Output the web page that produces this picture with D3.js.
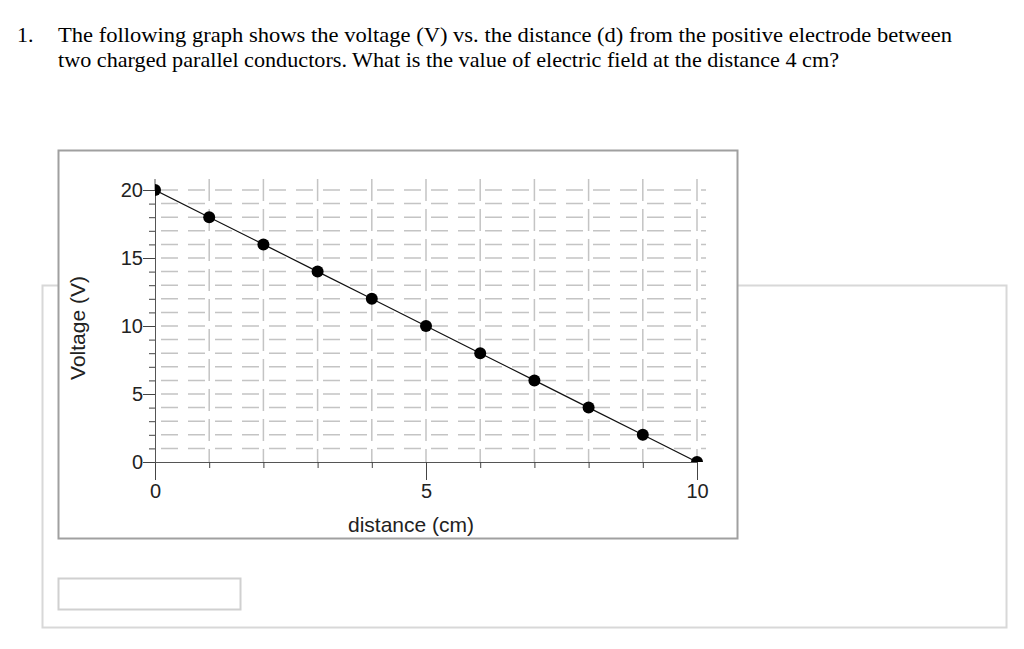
<!DOCTYPE html>
<meta charset="utf-8">
<title>Voltage vs distance</title>
<style>
body { margin: 0; background: #fff; }
svg { display: block; }
</style>
<body>
<script src="https://cdn.jsdelivr.net/npm/d3@7"></script>
<script>

var distance = [0, 1, 2, 3, 4, 5, 6, 7, 8, 9, 10];
var voltage = [20, 18, 16, 14, 12, 10, 8, 6, 4, 2, 0];
var xTicks = [0, 5, 10];
var yTicks = [0, 5, 10, 15, 20];

var svg = d3.select("body").append("svg").attr("width", 1024).attr("height", 649);
var serif = "'Liberation Serif', 'Times New Roman', serif";
var sans = "'Liberation Sans', Arial, sans-serif";

// question text
svg.append("text").attr("x", 17).attr("y", 42).attr("font-family", serif).attr("font-size", 22).text("1.");
svg.append("text").attr("x", 58).attr("y", 42).attr("font-family", serif).attr("font-size", 22)
	.attr("textLength", 894).attr("lengthAdjust", "spacingAndGlyphs")
	.text("The following graph shows the voltage (V) vs. the distance (d) from the positive electrode between");
svg.append("text").attr("x", 58).attr("y", 67).attr("font-family", serif).attr("font-size", 22)
	.attr("textLength", 781).attr("lengthAdjust", "spacingAndGlyphs")
	.text("two charged parallel conductors. What is the value of electric field at the distance 4 cm?");

// background answer panel and input
svg.append("rect").attr("x", 42.5).attr("y", 285.5).attr("width", 964).attr("height", 342)
	.attr("fill", "#fff").attr("stroke", "#d8d8d8").attr("stroke-width", 2);
svg.append("rect").attr("x", 58.5).attr("y", 578.5).attr("width", 182).attr("height", 31)
	.attr("fill", "#fff").attr("stroke", "#d0d0d0").attr("stroke-width", 2);

// graph frame
svg.append("rect").attr("x", 58.5).attr("y", 150.5).attr("width", 679).attr("height", 388)
	.attr("fill", "#fff").attr("stroke", "#a0a0a0").attr("stroke-width", 2);

var x = d3.scaleLinear().domain([0, 10]).range([155, 697]);
var y = d3.scaleLinear().domain([0, 20]).range([462, 190]);

// grid
var g = svg.append("g");
g.selectAll(".hg").data(d3.range(1, 21)).enter().append("line")
	.attr("x1", x(0)).attr("x2", 706).attr("y1", d => y(d)).attr("y2", d => y(d))
	.attr("stroke", "#c4c4c4").attr("stroke-width", 1.5).attr("stroke-dasharray", "17,10").attr("stroke-dashoffset", -6);
g.selectAll(".vg").data(d3.range(1, 11)).enter().append("line")
	.attr("x1", d => x(d)).attr("x2", d => x(d)).attr("y1", 179).attr("y2", y(0))
	.attr("stroke", "#c4c4c4").attr("stroke-width", 1.5).attr("stroke-dasharray", "22,8");

// axes
svg.append("g").attr("transform", "translate(0," + y(0) + ")")
	.call(d3.axisBottom(x).tickValues(d3.range(0, 11)).tickSize(6).tickFormat(d => xTicks.includes(d) ? d : ""))
	.call(a => a.select(".domain").attr("stroke", "#555"))
	.call(a => a.selectAll(".tick line").attr("stroke", "#444").attr("y2", d => xTicks.includes(d) ? 18 : 6))
	.call(a => a.selectAll(".tick text").attr("y", 22).attr("font-family", sans).attr("font-size", 20).attr("fill", "#222"));
svg.append("g").attr("transform", "translate(" + x(0) + ",0)")
	.call(d3.axisLeft(y).tickValues(d3.range(0, 21)).tickSize(6).tickFormat(d => yTicks.includes(d) ? d : ""))
	.call(a => a.select(".domain").attr("stroke", "#555"))
	.call(a => a.selectAll(".tick line").attr("stroke", "#444").attr("x2", d => yTicks.includes(d) ? -12 : -6))
	.call(a => a.selectAll(".tick text").attr("x", -12).attr("font-family", sans).attr("font-size", 20).attr("fill", "#222"));
svg.append("line").attr("x1", x(0)).attr("x2", x(0)).attr("y1", 179).attr("y2", y(20)).attr("stroke", "#555");

svg.append("text").attr("x", (x(0) + x(10)) / 2 - 15).attr("y", 532).attr("text-anchor", "middle")
	.attr("font-family", sans).attr("font-size", 21).attr("fill", "#222").text("distance (cm)");
svg.append("text").attr("transform", "translate(85," + (y(10) + 2) + ") rotate(-90)").attr("text-anchor", "middle")
	.attr("font-family", sans).attr("font-size", 21).attr("fill", "#222").text("Voltage (V)");

// data
svg.append("clipPath").attr("id", "plot").append("rect")
	.attr("x", x(0)).attr("y", 170).attr("width", 560).attr("height", y(0) - 170);
var pts = distance.map((d, i) => [d, voltage[i]]);
var p = svg.append("g").attr("clip-path", "url(#plot)");
p.append("path").datum(pts).attr("fill", "none").attr("stroke", "#111").attr("stroke-width", 1.2)
	.attr("d", d3.line().x(d => x(d[0])).y(d => y(d[1])));
p.selectAll("circle").data(pts).enter().append("circle")
	.attr("cx", d => x(d[0])).attr("cy", d => y(d[1])).attr("r", 6).attr("fill", "#000");
</script>
</body>
</html>
